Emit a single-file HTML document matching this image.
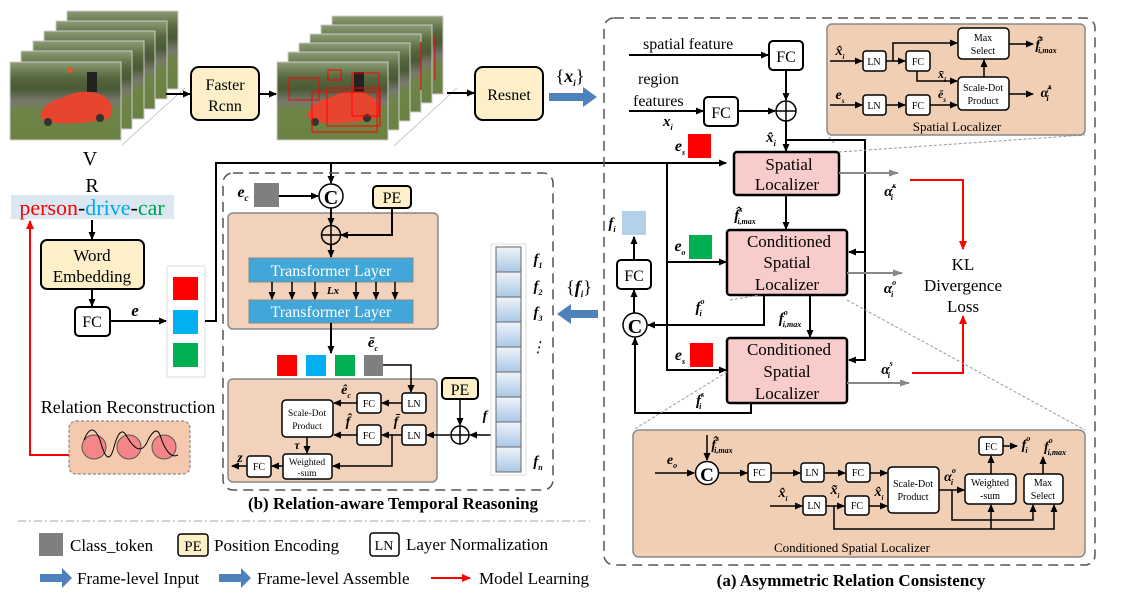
<!DOCTYPE html>
<html><head><meta charset="utf-8"><style>
html,body{margin:0;padding:0;background:#fff}
svg{display:block}
text{font-family:"Liberation Serif",serif}
.m{font-style:italic;font-weight:bold}
</style></head><body>
<svg width="1121" height="602" viewBox="0 0 1121 602" xmlns="http://www.w3.org/2000/svg">
<defs>
<marker id="a" markerWidth="8" markerHeight="8" refX="7" refY="4" orient="auto" markerUnits="userSpaceOnUse"><path d="M0,0.5 L8,4 L0,7.5 z" fill="#000"/></marker>
<marker id="g" markerWidth="10" markerHeight="8" refX="9" refY="4" orient="auto" markerUnits="userSpaceOnUse"><path d="M0,0.5 L10,4 L0,7.5 z" fill="#888"/></marker>
<marker id="r" markerWidth="9" markerHeight="9" refX="8" refY="4.5" orient="auto" markerUnits="userSpaceOnUse"><path d="M0,0.5 L9,4.5 L0,8.5 z" fill="#f00"/></marker>
<linearGradient id="ph" x1="0" y1="0" x2="0" y2="1"><stop offset="0" stop-color="#8d9c74"/><stop offset="0.2" stop-color="#56683e"/><stop offset="0.35" stop-color="#4a5a36"/><stop offset="0.5" stop-color="#77786c"/><stop offset="0.62" stop-color="#6f8448"/><stop offset="1" stop-color="#6a8244"/></linearGradient>
<linearGradient id="col" x1="0" y1="0" x2="0" y2="1"><stop offset="0" stop-color="#eef4fa"/><stop offset="1" stop-color="#a9c8e6"/></linearGradient>
</defs>

<!-- photo stacks -->
<g stroke="#ccc" stroke-width="1">
<rect x="67" y="11" width="111" height="78" fill="url(#ph)"/>
<rect x="56" y="21" width="111" height="78" fill="url(#ph)"/>
<rect x="44" y="31" width="111" height="78" fill="url(#ph)"/>
<rect x="33" y="41" width="111" height="78" fill="url(#ph)"/>
<rect x="21" y="51" width="111" height="78" fill="url(#ph)"/>
<rect x="10" y="62" width="111" height="78" fill="url(#ph)"/>
</g>
<path d="M40,116 Q44,102 62,98 Q80,88 100,94 Q112,100 112,110 L110,118 Q80,126 45,122 z" fill="#e8452f"/>
<circle cx="48" cy="122" r="4" fill="#333"/><circle cx="100" cy="118" r="4" fill="#333"/>
<circle cx="70" cy="70" r="3" fill="#d85a30"/>
<rect x="87" y="72" width="10" height="20" fill="#222"/>
<g stroke="#ccc" stroke-width="1">
<rect x="332" y="16" width="111" height="78" fill="url(#ph)"/>
<rect x="321" y="25" width="111" height="78" fill="url(#ph)"/>
<rect x="310" y="34" width="111" height="78" fill="url(#ph)"/>
<rect x="299" y="43" width="111" height="78" fill="url(#ph)"/>
<rect x="288" y="52" width="111" height="78" fill="url(#ph)"/>
<rect x="277" y="62" width="111" height="78" fill="url(#ph)"/>
</g>
<path d="M307,116 Q311,102 329,98 Q347,88 367,94 Q379,100 379,110 L377,118 Q347,126 312,122 z" fill="#e8452f"/>
<circle cx="315" cy="122" r="4" fill="#333"/><circle cx="367" cy="118" r="4" fill="#333"/>
<rect x="354" y="72" width="10" height="20" fill="#222"/>
<g fill="none" stroke="#f00" stroke-width="1"><rect x="289" y="78" width="30" height="22"/><rect x="312" y="92" width="65" height="40"/><rect x="327" y="88" width="53" height="38"/><rect x="352" y="73" width="27" height="43"/><rect x="328" y="70" width="13" height="10"/><line x1="435" y1="35" x2="435" y2="80"/><line x1="421" y1="42" x2="421" y2="90"/></g>
<line x1="122" y1="145" x2="185" y2="88" stroke="#bbb" stroke-width="0.8"/>
<line x1="394" y1="146" x2="457" y2="88" stroke="#bbb" stroke-width="0.8"/>
<text x="90" y="165" font-size="20" text-anchor="middle">V</text>

<g stroke="#000" stroke-width="2" fill="none">
<line x1="166" y1="94" x2="190" y2="94" marker-end="url(#a)"/>
<line x1="260" y1="94" x2="276" y2="94" marker-end="url(#a)"/>
<line x1="447" y1="93" x2="474" y2="93" marker-end="url(#a)"/>
</g>
<rect x="191" y="67" width="68" height="53" rx="8" fill="#fdf0c8" stroke="#000" stroke-width="2"/>
<text x="225" y="90" font-size="16" text-anchor="middle">Faster</text>
<text x="225" y="111" font-size="16" text-anchor="middle">Rcnn</text>
<rect x="475" y="67" width="68" height="53" rx="8" fill="#fdf0c8" stroke="#000" stroke-width="2"/>
<text x="509" y="100" font-size="16" text-anchor="middle">Resnet</text>
<text x="570" y="82" font-size="18" text-anchor="middle"><tspan>{</tspan><tspan class="m">x</tspan><tspan class="m" font-size="9" dy="4">i</tspan><tspan dy="-4">}</tspan></text>
<path d="M549,93 L583,93 L583,87 L597,97 L583,107 L583,101 L549,101 z" fill="#4f81bd"/>

<!-- left R part -->
<text x="92" y="192" font-size="20" text-anchor="middle">R</text>
<rect x="11" y="195" width="163" height="24" fill="#dbe8f4"/>
<text x="92" y="215" font-size="22" text-anchor="middle"><tspan fill="#f00">person</tspan><tspan>-</tspan><tspan fill="#00a9e8">drive</tspan><tspan>-</tspan><tspan fill="#00a050">car</tspan></text>
<line x1="92" y1="220" x2="92" y2="239" stroke="#000" stroke-width="2" marker-end="url(#a)"/>
<rect x="41" y="240" width="103" height="49" rx="6" fill="#fdf0c8" stroke="#000" stroke-width="2"/>
<text x="92" y="261" font-size="17" text-anchor="middle">Word</text>
<text x="92" y="282" font-size="17" text-anchor="middle">Embedding</text>
<line x1="92" y1="289" x2="92" y2="306" stroke="#000" stroke-width="2" marker-end="url(#a)"/>
<rect x="75" y="307" width="35" height="29" rx="4" fill="#fff" stroke="#000" stroke-width="2"/>
<text x="92" y="327" font-size="16" text-anchor="middle">FC</text>
<line x1="110" y1="321" x2="166" y2="321" stroke="#000" stroke-width="2" marker-end="url(#a)"/>
<text x="135" y="316" font-size="17" class="m" text-anchor="middle">e</text>
<rect x="167" y="266" width="38" height="111" fill="#fff" stroke="#ddd" stroke-width="1"/>
<rect x="173" y="277" width="25" height="23" fill="#f00"/>
<rect x="173" y="310" width="25" height="24" fill="#00b0f0"/>
<rect x="173" y="343" width="25" height="24" fill="#00b050"/>
<polyline points="205,321 216,321 216,163 726,163" fill="none" stroke="#000" stroke-width="2" marker-end="url(#a)"/>
<line x1="331" y1="163" x2="331" y2="183" stroke="#000" stroke-width="2" marker-end="url(#a)"/>

<text x="128" y="413" font-size="18" text-anchor="middle">Relation Reconstruction</text>
<rect x="69" y="421" width="121" height="53" rx="7" fill="#f4c9ae" stroke="#888" stroke-width="1.2" stroke-dasharray="3,2"/>
<g fill="#f4868a" stroke="#555" stroke-width="1"><circle cx="94" cy="447" r="12"/><circle cx="129" cy="447" r="12"/><circle cx="164" cy="447" r="12"/></g>
<path d="M84,440 Q92,420 100,440 Q108,470 114,447 Q120,425 126,435 Q140,460 148,440 Q156,425 160,435 Q168,460 178,455" fill="none" stroke="#000" stroke-width="1"/>
<polyline points="69,455 30,455 30,221" fill="none" stroke="#f00" stroke-width="2" marker-end="url(#r)"/>

<!-- (b) box -->
<rect x="223" y="173" width="330" height="317" rx="10" fill="none" stroke="#555" stroke-width="1.5" stroke-dasharray="10,6"/>
<text x="393" y="509" font-size="17" font-weight="bold" text-anchor="middle">(b) Relation-aware Temporal  Reasoning</text>
<text x="243" y="197" font-size="16" class="m" text-anchor="middle">e<tspan font-size="9" dy="4">c</tspan></text>
<rect x="254" y="183" width="25" height="24" fill="#7f7f7f"/>
<line x1="279" y1="196" x2="318" y2="196" stroke="#000" stroke-width="2" marker-end="url(#a)"/>
<circle cx="331" cy="196" r="12" fill="#fff" stroke="#000" stroke-width="1.5"/>
<text x="331" y="204" font-size="20" font-weight="bold" text-anchor="middle">C</text>
<rect x="373" y="186" width="38" height="22" rx="4" fill="#fdf0c8" stroke="#000" stroke-width="2"/>
<text x="392" y="203" font-size="16" text-anchor="middle">PE</text>
<rect x="228" y="213" width="210" height="116" rx="5" fill="#f2d2bb" stroke="#888" stroke-width="1.5"/>
<line x1="331" y1="208" x2="331" y2="225" stroke="#000" stroke-width="2" marker-end="url(#a)"/>
<circle cx="331" cy="235" r="9.5" fill="none" stroke="#000" stroke-width="1.5"/>
<path d="M321.5,235 H340.5 M331,225.5 V244.5" stroke="#000" stroke-width="1.5"/>
<polyline points="392,208 392,235 341,235" fill="none" stroke="#000" stroke-width="2" marker-end="url(#a)"/>
<line x1="331" y1="245" x2="331" y2="257" stroke="#000" stroke-width="2" marker-end="url(#a)"/>
<rect x="249" y="258" width="164" height="24" fill="#41a7d9" stroke="#888"/>
<text x="331" y="276" font-size="16" fill="#fff" text-anchor="middle">Transformer Layer</text>
<rect x="249" y="300" width="164" height="23" fill="#41a7d9" stroke="#888"/>
<text x="331" y="317" font-size="16" fill="#fff" text-anchor="middle">Transformer Layer</text>
<g stroke="#000" stroke-width="1.5">
<line x1="272" y1="282" x2="272" y2="299" marker-end="url(#a)"/>
<line x1="292" y1="282" x2="292" y2="299" marker-end="url(#a)"/>
<line x1="315" y1="282" x2="315" y2="299" marker-end="url(#a)"/>
<line x1="356" y1="282" x2="356" y2="299" marker-end="url(#a)"/>
<line x1="376" y1="282" x2="376" y2="299" marker-end="url(#a)"/>
<line x1="395" y1="282" x2="395" y2="299" marker-end="url(#a)"/>
</g>
<text x="333" y="294" font-size="11" class="m" text-anchor="middle">Lx</text>
<line x1="331" y1="323" x2="331" y2="353" stroke="#000" stroke-width="2" marker-end="url(#a)"/>
<rect x="277" y="355" width="20" height="21" fill="#f00"/>
<rect x="306" y="355" width="20" height="21" fill="#00b0f0"/>
<rect x="335" y="355" width="20" height="21" fill="#00b050"/>
<rect x="364" y="355" width="19" height="21" fill="#7f7f7f"/>
<text x="373" y="347" font-size="15" class="m" text-anchor="middle">ē<tspan font-size="8" dy="4">c</tspan></text>
<rect x="228" y="379" width="209" height="103" rx="5" fill="#f2d2bb" stroke="#888" stroke-width="1.5"/>
<polyline points="383,365 411,365 411,392" fill="none" stroke="#000" stroke-width="1.5" marker-end="url(#a)"/>
<g fill="#fff" stroke="#000" stroke-width="1.5">
<rect x="402" y="393" width="24" height="20" rx="3"/><rect x="357" y="393" width="24" height="20" rx="3"/>
<rect x="402" y="425" width="24" height="20" rx="3"/><rect x="357" y="425" width="24" height="20" rx="3"/>
<rect x="282" y="400" width="51" height="37" rx="4"/><rect x="283" y="454" width="49" height="25" rx="3"/>
<rect x="247" y="456" width="24" height="21" rx="3"/>
</g>
<g font-size="10" text-anchor="middle">
<text x="414" y="407">LN</text><text x="369" y="407">FC</text><text x="414" y="439">LN</text><text x="369" y="439">FC</text>
<text x="307" y="416" font-size="9.5">Scale-Dot</text><text x="307" y="429" font-size="9.5">Product</text>
<text x="307" y="465" font-size="9.5">Weighted</text><text x="307" y="476" font-size="9.5">-sum</text>
<text x="259" y="470">FC</text>
</g>
<g stroke="#000" stroke-width="1.5" fill="none">
<line x1="402" y1="403" x2="382" y2="403" marker-end="url(#a)"/>
<line x1="357" y1="403" x2="334" y2="403" marker-end="url(#a)"/>
<line x1="402" y1="435" x2="382" y2="435" marker-end="url(#a)"/>
<line x1="357" y1="435" x2="334" y2="435" marker-end="url(#a)"/>
<polyline points="392,435 392,466 333,466" marker-end="url(#a)"/>
<line x1="307" y1="437" x2="307" y2="453" marker-end="url(#a)"/>
<line x1="283" y1="466" x2="272" y2="466" marker-end="url(#a)"/>
<line x1="247" y1="466" x2="232" y2="466" marker-end="url(#a)"/>
<line x1="492" y1="435" x2="470" y2="435" marker-end="url(#a)"/>
<line x1="450" y1="435" x2="427" y2="435" marker-end="url(#a)"/>
<line x1="460" y1="399" x2="460" y2="425" marker-end="url(#a)"/>
</g>
<g font-size="14" class="m" text-anchor="middle">
<text x="346" y="394">ê<tspan font-size="8" dy="4">c</tspan></text>
<text x="348" y="426">f̂</text><text x="396" y="426">f̄</text>
<text x="297" y="449" font-size="12">τ</text><text x="240" y="462">z</text>
<text x="485" y="420">f</text>
</g>
<rect x="442" y="378" width="36" height="21" rx="4" fill="#fdf0c8" stroke="#000" stroke-width="2"/>
<text x="460" y="395" font-size="16" text-anchor="middle">PE</text>
<circle cx="460" cy="435" r="9" fill="#fff" stroke="#000" stroke-width="1.5"/>
<path d="M451,435 H469 M460,426 V444" stroke="#000" stroke-width="1.5"/>
<rect x="491" y="244" width="35" height="231" fill="#fff" stroke="#ddd"/>
<g stroke="#666" stroke-width="1" fill="url(#col)">
<rect x="496" y="247" width="25" height="25"/><rect x="496" y="272" width="25" height="25"/><rect x="496" y="297" width="25" height="25"/>
<rect x="496" y="322" width="25" height="25"/><rect x="496" y="347" width="25" height="25"/><rect x="496" y="372" width="25" height="25"/>
<rect x="496" y="397" width="25" height="25"/><rect x="496" y="422" width="25" height="25"/><rect x="496" y="447" width="25" height="25"/>
</g>
<g font-size="15" class="m" text-anchor="middle">
<text x="538" y="264">f<tspan font-size="8" dy="4">1</tspan></text>
<text x="538" y="291">f<tspan font-size="8" dy="4">2</tspan></text>
<text x="538" y="317">f<tspan font-size="8" dy="4">3</tspan></text>
<text x="538" y="352" font-weight="normal">⋮</text>
<text x="538" y="466">f<tspan font-size="8" dy="4">n</tspan></text>
</g>
<text x="579" y="293" font-size="18" text-anchor="middle"><tspan>{</tspan><tspan class="m">f</tspan><tspan class="m" font-size="9" dy="4">i</tspan><tspan dy="-4">}</tspan></text>
<path d="M598,310 L571,310 L571,304 L557,314 L571,324 L571,318 L598,318 z" fill="#4f81bd"/>

<!-- legend -->
<line x1="18" y1="521" x2="590" y2="521" stroke="#aaa" stroke-width="1" stroke-dasharray="8,3,2,3"/>
<rect x="39" y="533" width="24" height="23" fill="#7f7f7f"/>
<text x="70" y="551" font-size="17">Class_token</text>
<rect x="178" y="534" width="30" height="22" rx="3" fill="#fdf0c8" stroke="#000" stroke-width="1.5"/>
<text x="193" y="551" font-size="15" text-anchor="middle">PE</text>
<text x="214" y="551" font-size="17">Position Encoding</text>
<rect x="370" y="533" width="29" height="23" rx="3" fill="#fff" stroke="#000" stroke-width="1.5"/>
<text x="384" y="550" font-size="14" text-anchor="middle">LN</text>
<text x="406" y="550" font-size="17">Layer Normalization</text>
<path d="M40,574 L62,574 L62,568 L72,578 L62,588 L62,582 L40,582 z" fill="#4f81bd"/>
<text x="77" y="584" font-size="17">Frame-level Input</text>
<path d="M219,574 L241,574 L241,568 L251,578 L241,588 L241,582 L219,582 z" fill="#4f81bd"/>
<text x="257" y="584" font-size="17">Frame-level Assemble</text>
<line x1="431" y1="578" x2="470" y2="578" stroke="#f00" stroke-width="2" marker-end="url(#r)"/>
<text x="479" y="584" font-size="17">Model Learning</text>

<!-- (a) right -->
<rect x="604" y="18" width="491" height="547" rx="10" fill="none" stroke="#555" stroke-width="1.5" stroke-dasharray="10,6"/>
<text x="851" y="586" font-size="17" font-weight="bold" text-anchor="middle">(a) Asymmetric Relation Consistency</text>

<text x="643" y="49" font-size="16">spatial feature</text>
<line x1="629" y1="55" x2="768" y2="55" stroke="#000" stroke-width="2" marker-end="url(#a)"/>
<rect x="769" y="41" width="34" height="29" rx="4" fill="#fff" stroke="#000" stroke-width="2"/>
<text x="786" y="62" font-size="16" text-anchor="middle">FC</text>
<text x="638" y="84" font-size="16">region</text>
<text x="633" y="106" font-size="16">features</text>
<line x1="629" y1="111" x2="703" y2="111" stroke="#000" stroke-width="2" marker-end="url(#a)"/>
<text x="663" y="126" font-size="15" class="m">x<tspan font-size="8" dy="4">i</tspan></text>
<rect x="704" y="97" width="34" height="29" rx="4" fill="#fff" stroke="#000" stroke-width="2"/>
<text x="721" y="118" font-size="16" text-anchor="middle">FC</text>
<line x1="738" y1="111" x2="775" y2="111" stroke="#000" stroke-width="2" marker-end="url(#a)"/>
<line x1="786" y1="70" x2="786" y2="100" stroke="#000" stroke-width="2" marker-end="url(#a)"/>
<circle cx="786" cy="111" r="10" fill="#fff" stroke="#000" stroke-width="1.5"/>
<path d="M776,111 H796 M786,101 V121" stroke="#000" stroke-width="1.5"/>
<text x="771" y="142" font-size="15" class="m" text-anchor="middle">x̂<tspan font-size="8" dy="4">i</tspan></text>
<polyline points="786,121 786,151" fill="none" stroke="#000" stroke-width="2" marker-end="url(#a)"/>
<polyline points="786,140 865,140 865,360 849,360" fill="none" stroke="#000" stroke-width="2" marker-end="url(#a)"/>
<polyline points="865,252 849,252" fill="none" stroke="#000" stroke-width="2" marker-end="url(#a)"/>
<text x="680" y="151" font-size="16" class="m" text-anchor="middle">e<tspan font-size="8" dy="4">s</tspan></text>
<rect x="688" y="134" width="23" height="24" fill="#f00"/>
<polyline points="667,163 667,370 726,370" fill="none" stroke="#000" stroke-width="2" marker-end="url(#a)"/>
<line x1="667" y1="262" x2="726" y2="262" stroke="#000" stroke-width="2" marker-end="url(#a)"/>
<rect x="734" y="152" width="105" height="43" rx="3" fill="#f9cccc" stroke="#000" stroke-width="2.5"/>
<text x="789" y="170" font-size="17" text-anchor="middle">Spatial</text>
<text x="787" y="190" font-size="17" text-anchor="middle">Localizer</text>
<line x1="839" y1="173" x2="898" y2="173" stroke="#888" stroke-width="2" marker-end="url(#g)"/>
<text x="890" y="196" font-size="15" class="m" text-anchor="middle">α̂<tspan font-size="8" dy="-8">s</tspan><tspan font-size="8" dx="-5" dy="12">i</tspan></text>
<polyline points="910,180 963,180 963,249" fill="none" stroke="#f00" stroke-width="2" marker-end="url(#r)"/>
<text x="963" y="270" font-size="17" text-anchor="middle">KL</text>
<text x="963" y="291" font-size="17" text-anchor="middle">Divergence</text>
<text x="963" y="312" font-size="17" text-anchor="middle">Loss</text>
<line x1="786" y1="195" x2="786" y2="229" stroke="#000" stroke-width="2" marker-end="url(#a)"/>
<text x="745" y="220" font-size="15" class="m" text-anchor="middle">f̂<tspan font-size="8" dy="-8">s</tspan><tspan font-size="8" dx="-5" dy="12">i,max</tspan></text>
<text x="612" y="228" font-size="15" class="m" text-anchor="middle">f<tspan font-size="8" dy="4">i</tspan></text>
<rect x="622" y="211" width="24" height="24" fill="#b4d0ea"/>
<text x="680" y="251" font-size="16" class="m" text-anchor="middle">e<tspan font-size="8" dy="4">o</tspan></text>
<rect x="689" y="235" width="23" height="24" fill="#00b050"/>
<rect x="727" y="230" width="120" height="65" rx="3" fill="#f9cccc" stroke="#000" stroke-width="2.5"/>
<text x="789" y="247" font-size="17" text-anchor="middle">Conditioned</text>
<text x="787" y="268" font-size="17" text-anchor="middle">Spatial</text>
<text x="787" y="290" font-size="17" text-anchor="middle">Localizer</text>
<line x1="847" y1="273" x2="902" y2="273" stroke="#888" stroke-width="2" marker-end="url(#g)"/>
<text x="890" y="293" font-size="15" class="m" text-anchor="middle">α<tspan font-size="8" dy="-8">o</tspan><tspan font-size="8" dx="-5" dy="12">i</tspan></text>
<rect x="617" y="260" width="34" height="29" rx="4" fill="#fff" stroke="#000" stroke-width="2"/>
<text x="634" y="281" font-size="16" text-anchor="middle">FC</text>
<line x1="634" y1="260" x2="634" y2="237" stroke="#000" stroke-width="2" marker-end="url(#a)"/>
<line x1="634" y1="313" x2="634" y2="290" stroke="#000" stroke-width="2" marker-end="url(#a)"/>
<polyline points="764,295 764,325 648,325" fill="none" stroke="#000" stroke-width="2" marker-end="url(#a)"/>
<circle cx="635" cy="325" r="12" fill="#fff" stroke="#000" stroke-width="1.5"/>
<text x="635" y="333" font-size="20" font-weight="bold" text-anchor="middle">C</text>
<text x="700" y="312" font-size="15" class="m" text-anchor="middle">f<tspan font-size="8" dy="-8">o</tspan><tspan font-size="8" dx="-5" dy="12">i</tspan></text>
<line x1="810" y1="295" x2="810" y2="337" stroke="#000" stroke-width="2" marker-end="url(#a)"/>
<text x="790" y="323" font-size="15" class="m" text-anchor="middle">f<tspan font-size="8" dy="-8">o</tspan><tspan font-size="8" dx="-5" dy="12">i,max</tspan></text>
<text x="680" y="360" font-size="16" class="m" text-anchor="middle">e<tspan font-size="8" dy="4">s</tspan></text>
<rect x="690" y="343" width="23" height="24" fill="#f00"/>
<rect x="727" y="338" width="120" height="65" rx="3" fill="#f9cccc" stroke="#000" stroke-width="2.5"/>
<text x="789" y="355" font-size="17" text-anchor="middle">Conditioned</text>
<text x="787" y="377" font-size="17" text-anchor="middle">Spatial</text>
<text x="787" y="399" font-size="17" text-anchor="middle">Localizer</text>
<polyline points="751,403 751,413 635,413 635,338" fill="none" stroke="#000" stroke-width="2" marker-end="url(#a)"/>
<text x="700" y="405" font-size="15" class="m" text-anchor="middle">f<tspan font-size="8" dy="-8">s</tspan><tspan font-size="8" dx="-5" dy="12">i</tspan></text>
<line x1="847" y1="383" x2="909" y2="383" stroke="#888" stroke-width="2" marker-end="url(#g)"/>
<text x="887" y="374" font-size="15" class="m" text-anchor="middle">α<tspan font-size="8" dy="-8">s</tspan><tspan font-size="8" dx="-5" dy="12">i</tspan></text>
<polyline points="912,373 963,373 963,316" fill="none" stroke="#f00" stroke-width="2" marker-end="url(#r)"/>

<!-- dotted zoom lines -->
<g stroke="#999" stroke-width="1" stroke-dasharray="3,2" fill="none">
<line x1="839" y1="152" x2="1085" y2="135"/><line x1="834" y1="143" x2="827" y2="135"/>
<line x1="727" y1="372" x2="633" y2="430"/><line x1="847" y1="300" x2="1085" y2="430"/>
<line x1="730" y1="300" x2="760" y2="295"/>
</g>

<!-- Spatial Localizer inset -->
<rect x="827" y="24" width="258" height="111" rx="5" fill="#f1cfb5" stroke="#888" stroke-width="1.5"/>
<text x="957" y="131" font-size="13" text-anchor="middle">Spatial Localizer</text>
<g fill="#fff" stroke="#000" stroke-width="1.5">
<rect x="863" y="51" width="23" height="20" rx="3"/><rect x="906" y="51" width="24" height="20" rx="3"/>
<rect x="863" y="95" width="23" height="20" rx="3"/><rect x="906" y="95" width="24" height="20" rx="3"/>
<rect x="958" y="28" width="51" height="31" rx="4"/><rect x="958" y="77" width="51" height="33" rx="4"/>
</g>
<g font-size="10" text-anchor="middle">
<text x="874" y="65">LN</text><text x="918" y="65">FC</text><text x="874" y="109">LN</text><text x="918" y="109">FC</text>
<text x="983" y="41">Max</text><text x="983" y="54">Select</text>
<text x="983" y="91">Scale-Dot</text><text x="983" y="104">Product</text>
</g>
<g stroke="#000" stroke-width="1.5" fill="none">
<line x1="830" y1="61" x2="862" y2="61" marker-end="url(#a)"/>
<line x1="886" y1="61" x2="905" y2="61" marker-end="url(#a)"/>
<polyline points="893,61 893,43 957,43" marker-end="url(#a)"/>
<polyline points="917,71 917,81 957,81" marker-end="url(#a)"/>
<line x1="830" y1="105" x2="862" y2="105" marker-end="url(#a)"/>
<line x1="886" y1="105" x2="905" y2="105" marker-end="url(#a)"/>
<line x1="930" y1="105" x2="957" y2="105" marker-end="url(#a)"/>
<line x1="984" y1="77" x2="984" y2="60" marker-end="url(#a)"/>
<line x1="1009" y1="44" x2="1033" y2="44" marker-end="url(#a)"/>
<line x1="1009" y1="94" x2="1033" y2="94" marker-end="url(#a)"/>
</g>
<g font-size="14" class="m" text-anchor="middle">
<text x="840" y="55">x̂<tspan font-size="7" dy="4">i</tspan></text>
<text x="840" y="99">e<tspan font-size="7" dy="4">s</tspan></text>
<text x="942" y="78" font-size="12">x̄<tspan font-size="7" dy="4">i</tspan></text>
<text x="942" y="98" font-size="12">ē<tspan font-size="7" dy="4">s</tspan></text>
<text x="1046" y="49">f̂<tspan font-size="8" dy="-8">s</tspan><tspan font-size="8" dx="-5" dy="12">i,max</tspan></text>
<text x="1046" y="97">α̂<tspan font-size="8" dy="-8">s</tspan><tspan font-size="8" dx="-5" dy="12">i</tspan></text>
</g>

<!-- Conditioned Spatial Localizer inset -->
<rect x="633" y="430" width="452" height="127" rx="6" fill="#f1cfb5" stroke="#888" stroke-width="1.5"/>
<text x="852" y="552" font-size="13" text-anchor="middle">Conditioned Spatial Localizer</text>
<g fill="#fff" stroke="#000" stroke-width="1.5">
<rect x="748" y="463" width="23" height="19" rx="3"/><rect x="801" y="463" width="23" height="19" rx="3"/><rect x="846" y="463" width="24" height="19" rx="3"/>
<rect x="803" y="496" width="23" height="19" rx="3"/><rect x="845" y="496" width="24" height="19" rx="3"/>
<rect x="888" y="467" width="51" height="46" rx="4"/><rect x="965" y="474" width="51" height="30" rx="4"/><rect x="1024" y="474" width="39" height="30" rx="4"/>
<rect x="979" y="437" width="24" height="18" rx="3"/>
</g>
<circle cx="707" cy="473" r="11.5" fill="#fff" stroke="#000" stroke-width="1.5"/>
<text x="707" y="481" font-size="19" font-weight="bold" text-anchor="middle">C</text>
<g font-size="10" text-anchor="middle">
<text x="759" y="476">FC</text><text x="812" y="476">LN</text><text x="858" y="476">FC</text>
<text x="814" y="509">LN</text><text x="857" y="509">FC</text>
<text x="913" y="487">Scale-Dot</text><text x="913" y="500">Product</text>
<text x="990" y="486">Weighted</text><text x="990" y="499">-sum</text>
<text x="1043" y="486">Max</text><text x="1043" y="499">Select</text>
<text x="991" y="450">FC</text>
</g>
<g stroke="#000" stroke-width="1.5" fill="none">
<line x1="655" y1="473" x2="694" y2="473" marker-end="url(#a)"/>
<line x1="707" y1="435" x2="707" y2="460" marker-end="url(#a)"/>
<line x1="719" y1="473" x2="747" y2="473" marker-end="url(#a)"/>
<line x1="771" y1="473" x2="800" y2="473" marker-end="url(#a)"/>
<line x1="824" y1="473" x2="845" y2="473" marker-end="url(#a)"/>
<line x1="870" y1="473" x2="887" y2="473" marker-end="url(#a)"/>
<line x1="770" y1="506" x2="802" y2="506" marker-end="url(#a)"/>
<line x1="826" y1="506" x2="844" y2="506" marker-end="url(#a)"/>
<line x1="869" y1="506" x2="887" y2="506" marker-end="url(#a)"/>
<line x1="939" y1="490" x2="964" y2="490" marker-end="url(#a)"/>
<polyline points="952,490 952,520 1033,520 1033,505" marker-end="url(#a)"/>
<polyline points="834,506 834,529 1054,529 1054,505" marker-end="url(#a)"/>
<line x1="991" y1="529" x2="991" y2="505" marker-end="url(#a)"/>
<line x1="991" y1="474" x2="991" y2="456" marker-end="url(#a)"/>
<line x1="1003" y1="446" x2="1017" y2="446" marker-end="url(#a)"/>
<line x1="1043" y1="474" x2="1043" y2="457" marker-end="url(#a)"/>
</g>
<g font-size="14" class="m" text-anchor="middle">
<text x="672" y="464">e<tspan font-size="8" dy="4">o</tspan></text>
<text x="722" y="449">f̂<tspan font-size="8" dy="-8">s</tspan><tspan font-size="8" dx="-5" dy="12">i,max</tspan></text>
<text x="783" y="497">x̂<tspan font-size="7" dy="4">i</tspan></text>
<text x="835" y="494">x̃<tspan font-size="7" dy="4">i</tspan></text>
<text x="879" y="496">x̂<tspan font-size="7" dy="4">i</tspan></text>
<text x="950" y="481">α<tspan font-size="8" dy="-8">o</tspan><tspan font-size="8" dx="-5" dy="12">i</tspan></text>
<text x="1026" y="449">f<tspan font-size="8" dy="-8">o</tspan><tspan font-size="8" dx="-5" dy="12">i</tspan></text>
<text x="1055" y="451">f<tspan font-size="8" dy="-8">o</tspan><tspan font-size="8" dx="-5" dy="12">i,max</tspan></text>
</g>
</svg>
</body></html>
